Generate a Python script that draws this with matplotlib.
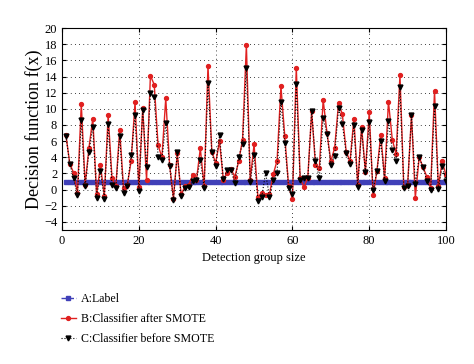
import numpy as np
import matplotlib
matplotlib.use('Agg')
import matplotlib.pyplot as plt

plt.rcParams['font.family'] = ['Liberation Serif', 'DejaVu Serif']

# data
groups = list(range(1, 101))
label_value = [1] * 100

after_smote = [6.8, 3.2, 2.1, -0.4, 10.6, 0.6, 5.2, 8.8, -0.6, 3.0,
               -0.8, 9.2, 1.4, 0.4, 7.4, 0.2, 0.6, 3.6, 10.8, 0.3,
               10.1, 1.2, 14.1, 13.0, 5.5, 4.0, 11.3, 3.1, -1.1, 4.5,
               -0.6, 0.4, 0.6, 1.8, 1.2, 5.1, 0.4, 15.3, 4.7, 3.3,
               6.0, 1.2, 2.1, 2.5, 1.6, 3.5, 6.2, 17.9, 1.2, 5.6,
               -0.9, -0.4, -0.7, -0.6, 1.9, 3.6, 12.8, 6.6, 0.4, -1.2,
               15.1, 1.4, 0.3, 1.5, 9.7, 3.0, 2.7, 11.1, 7.0, 3.5,
               5.2, 10.7, 9.3, 4.7, 3.5, 8.8, 0.6, 7.8, 2.2, 9.6,
               -0.7, 2.3, 6.8, 1.4, 10.9, 6.2, 4.4, 14.2, 0.3, 0.6,
               9.2, -1.0, 4.0, 2.8, 1.6, 0.2, 12.2, 0.4, 3.5, 1.8]

before_smote = [6.6, 3.2, 1.4, -0.7, 8.6, 0.4, 4.7, 7.8, -1.0, 2.3,
                -1.1, 8.1, 0.6, 0.2, 6.6, -0.4, 0.5, 4.3, 9.2, -0.2,
                9.9, 2.8, 12.0, 11.5, 4.1, 3.7, 8.2, 2.9, -1.3, 4.6,
                -0.8, 0.2, 0.3, 1.1, 1.2, 3.7, 0.2, 13.2, 4.6, 2.9,
                6.8, 1.3, 2.4, 2.4, 0.8, 4.1, 5.6, 15.1, 0.9, 4.3,
                -1.4, -0.9, 2.1, -0.9, 1.2, 2.1, 10.9, 5.8, 0.2, -0.6,
                13.1, 1.2, 1.4, 1.4, 9.7, 3.6, 1.4, 8.9, 6.9, 3.1,
                4.2, 10.1, 8.1, 4.5, 3.2, 8.0, 0.3, 7.4, 2.2, 8.4,
                -0.1, 2.3, 6.0, 1.1, 8.5, 4.9, 3.5, 12.7, 0.2, 0.4,
                9.2, 0.7, 4.0, 2.8, 1.1, -0.1, 10.4, 0.1, 2.9, 1.1]

fig = plt.figure(figsize=(4.74, 3.64), dpi=100)
ax = fig.add_axes([0.131, 0.368, 0.81, 0.555])

ax.plot(groups, label_value, '--', color='#4040b8', marker='s', markersize=2.6,
        linewidth=1.0, label='A:Label')
ax.plot(groups, after_smote, '-', color='#e02020', marker='o', markersize=2.8,
        linewidth=1.0, label='B:Classifier after SMOTE')
ax.plot(groups, before_smote, ':', color='black', marker='v', markersize=3.5,
        linewidth=0.8, label='C:Classifier before SMOTE')

ax.set_xlim(0, 100)
ax.set_ylim(-5, 20)
ax.set_xticks(range(0, 101, 20))
ax.set_yticks(range(-4, 21, 2))
ax.tick_params(direction='in', top=True, right=True, labelsize=9, length=3)
ax.grid(True, color='black', linestyle=(0, (1, 4)), linewidth=0.6)
for s in ax.spines.values():
    s.set_linewidth(0.8)

ax.set_xlabel('Detection group size', fontsize=9, labelpad=4)
ax.set_ylabel('Decision function f(x)', fontsize=13, labelpad=1)

handles, labels = ax.get_legend_handles_labels()
fig.legend(handles, labels, loc='upper left', bbox_to_anchor=(0.118, 0.207),
           frameon=False, fontsize=8.6, handlelength=1.3, handletextpad=0.4,
           labelspacing=0.65, borderaxespad=0)

fig.savefig('out.png', dpi=100)
